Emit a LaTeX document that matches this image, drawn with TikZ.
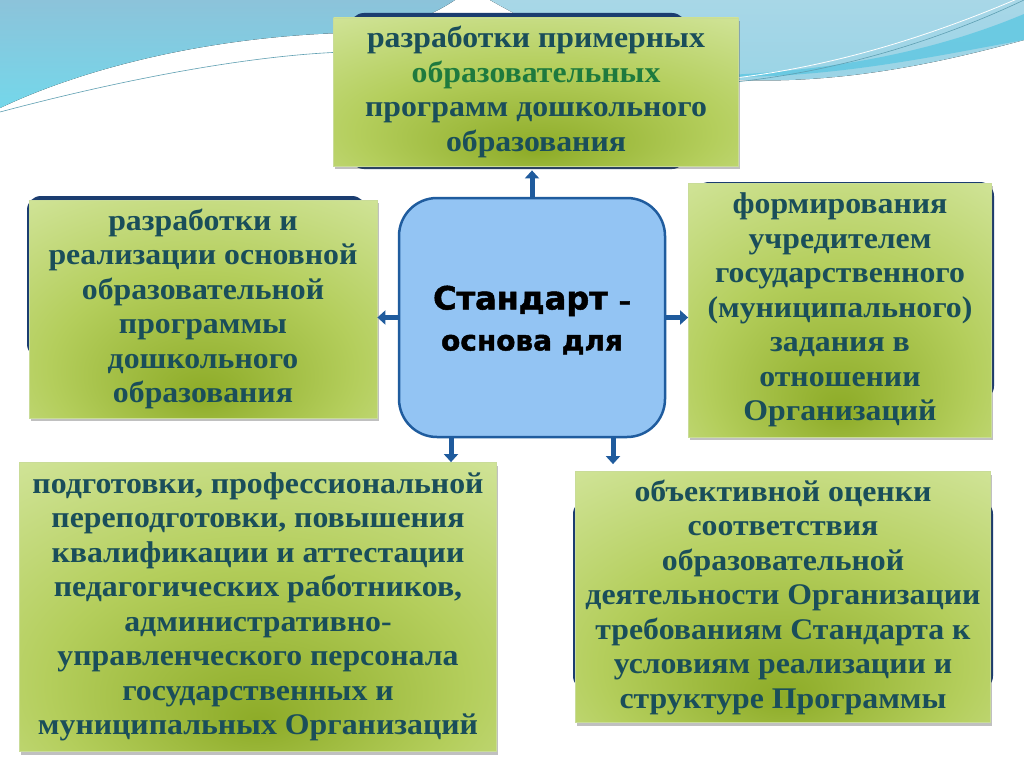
\documentclass[tikz,border=0pt]{standalone}
\usepackage{fontspec}
\setmainfont{Liberation Serif}[FakeStretch=1.06]
\newfontfamily\censans{DejaVu Sans}[BoldFeatures={FakeBold=1.6}]
\usetikzlibrary{shadows,arrows.meta}
\definecolor{txt}{HTML}{1A4E5A}
\definecolor{gword}{HTML}{1E7A3E}
\definecolor{navy}{HTML}{1B3D70}
\definecolor{cfill}{HTML}{93C4F3}
\definecolor{cborder}{HTML}{1F5C9E}
\definecolor{arrc}{HTML}{1F5B9D}
\definecolor{gdark}{HTML}{8DAB27}
\definecolor{gmid}{HTML}{B4CE5C}
\definecolor{glight}{HTML}{D6E8A4}
\definecolor{edge}{HTML}{C9DC98}
\definecolor{sky1}{HTML}{8CC3DA}
\definecolor{sky2}{HTML}{74D7EA}
\definecolor{sky3}{HTML}{A8D7E7}
\definecolor{sky4}{HTML}{62C8E2}
\definecolor{lineteal}{HTML}{5E9FB2}
\pgfdeclareradialshading{greenshade}{\pgfpoint{0bp}{-20bp}}{color(0bp)=(gdark); color(22bp)=(gmid); color(46bp)=(glight); color(70bp)=(glight)}
\tikzset{
  gbox/.style={rectangle, shading=greenshade, draw=edge, line width=0.8pt,
    drop shadow={shadow xshift=1.5pt,shadow yshift=-3pt,opacity=0.35,fill=black!70},
    align=center, text=txt, inner sep=0pt,
    font=\bfseries\fontsize{30}{34.5}\selectfont},
  navyback/.style={fill=navy, rounded corners=14pt},
  cbox/.style={rectangle, rounded corners=38pt, fill=cfill, draw=cborder, line width=2.5pt, align=center, inner sep=0pt},
  arr/.style={draw=arrc, line width=5pt, -{Triangle[width=14pt,length=8pt]}}
}
\begin{document}
\begin{tikzpicture}[x=1pt,y=-1pt]
\useasboundingbox (0,0) rectangle (1024,768);
\fill[white] (0,0) rectangle (1024,768);
% background swooshes
\fill[top color=sky1, bottom color=sky2]
  (0,0) -- (455,0) .. controls (425,20) and (390,31) .. (340,33)
  .. controls (200,38) and (80,70) .. (0,108) -- cycle;
\fill[top color=sky3, bottom color=sky3!80!sky4]
  (490,0) .. controls (560,40) and (640,72) .. (740,80)
  .. controls (850,84) and (950,60) .. (1024,40) -- (1024,0) -- cycle;
\fill[sky4, opacity=0.85]
  (700,76) .. controls (820,82) and (940,55) .. (1024,40) -- (1024,14)
  .. controls (950,45) and (850,72) .. (700,76) -- cycle;
\draw[lineteal, line width=0.6pt] (0,112) .. controls (120,80) and (250,55) .. (345,52);
\draw[white, line width=0.8pt] (0,109) .. controls (120,77) and (250,52) .. (345,49);
\draw[lineteal, line width=0.6pt] (735,82) .. controls (850,70) and (950,35) .. (1024,0);
\draw[white, line width=0.8pt] (735,78) .. controls (850,64) and (950,28) .. (1024,-4);
% navy backs
\fill[navyback] (350,13) rectangle (686,169);
\fill[navyback] (27,196) rectangle (366,358);
\fill[navyback] (695,182) rectangle (994,400);
\fill[navyback] (573,500) rectangle (993,690);
% green boxes
\node[gbox, minimum width=405pt, minimum height=148pt] (top) at (536,92)
  {разработки примерных\\{\color{gword}образовательных}\\программ дошкольного\\образования};
\node[gbox, minimum width=348pt, minimum height=218pt] (left) at (203,309)
  {разработки и\\реализации основной\\образовательной\\программы\\дошкольного\\образования};
\node[gbox, minimum width=303pt, minimum height=254pt] (right) at (840,310)
  {формирования\\учредителем\\государственного\\(муниципального)\\задания в\\отношении\\Организаций};
\node[gbox, minimum width=477pt, minimum height=289pt] (bl) at (258,607)
  {подготовки, профессиональной\\переподготовки, повышения\\квалификации и аттестации\\педагогических работников,\\административно-\\управленческого персонала\\государственных и\\муниципальных Организаций};
\node[gbox, minimum width=415pt, minimum height=251pt] (br) at (783,597)
  {объективной оценки\\соответствия\\образовательной\\деятельности Организации\\требованиям Стандарта к\\условиям реализации и\\структуре Программы};
% center
\node[cbox, minimum width=266pt, minimum height=239pt] (c) at (532,317.5) {};
\node[align=center, inner sep=0pt, font=\censans\bfseries\fontsize{32}{41}\selectfont] (ctext) at (532,320)
  {Стандарт {\fontsize{24}{41}\selectfont –}\\{\fontsize{28}{41}\selectfont основа для}};
% arrows
\draw[arr] (c.north) -- ([yshift=-4pt]c.north |- top.south);
\draw[arr] (c.west) -- (c.west -| left.east);
\draw[arr] (c.east) -- (c.east -| right.west);
\draw[arr] ([xshift=-81pt]c.south) -- ([xshift=-81pt]c.south |- bl.north);
\draw[arr, shorten >=7pt] ([xshift=81pt]c.south) -- ([xshift=81pt]c.south |- br.north);
\end{tikzpicture}
\end{document}
